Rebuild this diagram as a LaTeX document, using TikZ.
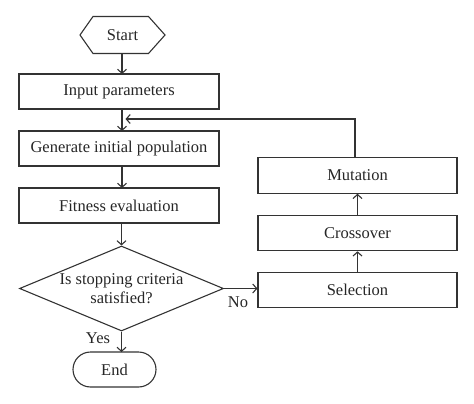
\documentclass[tikz,border=0pt]{standalone}
\usepackage{fontspec}
\setmainfont{Liberation Serif}
\usetikzlibrary{arrows.meta,shapes.geometric,shapes.misc,calc}
\begin{document}
\begin{tikzpicture}[x=1pt,y=-1pt,
  line width=1.1pt, draw=black!80,
  every node/.style={font=\fontsize{16.5}{19}\selectfont, text=black!85},
  box/.style={draw, rectangle, minimum width=200pt, minimum height=35pt, inner sep=0pt},
  rbox/.style={draw, rectangle, minimum width=199pt, minimum height=35.5pt, inner sep=0pt},
  arr/.style={-{Straight Barb[length=4pt,width=9pt]}}]
\useasboundingbox (0,0) rectangle (474,404);
% Start hexagon
\node (start) at (122.5,35) {Start};
\draw ($(start)+(-42.5,0)$) -- ($(start)+(-29.5,-18.5)$) -- ($(start)+(26,-18.5)$) -- ($(start)+(42.5,0)$) -- ($(start)+(26,18.5)$) -- ($(start)+(-29.5,18.5)$) -- cycle;
\coordinate (startb) at (122,53.5);
% Left column
\node[box] (input) at (119,91.5) {Input parameters};
\node[box] (gen) at (119,148.5) {Generate initial population};
\node[box] (fit) at (119,205.5) {Fitness evaluation};
\node[draw, diamond, minimum width=204pt, minimum height=85pt, inner sep=0pt, aspect=2.4, align=center] (dec) at (121.5,288.5) {Is stopping criteria\\satisfied?};
\node[draw, rounded rectangle, rounded rectangle arc length=180, minimum width=83pt, minimum height=35pt, inner sep=0pt] (end) at (114.5,369.5) {End};
% Right column
\node[rbox] (sel) at (357.5,290) {Selection};
\node[rbox] (cross) at (357.5,233) {Crossover};
\node[rbox] (mut) at (357.5,175.5) {Mutation};
% Connectors
\draw[arr] (startb) -- (122,74);
\draw[arr] (122,109) -- (122,131);
\draw[arr] (122,166) -- (122,188);
\draw[arr] (121.5,223) -- (dec.north);
\draw[arr] (dec.south) -- (121.5,352);
\draw[arr] (dec.east) -- (sel.west |- dec.east);
\draw[arr] (sel.north) -- (cross.south);
\draw[arr] (cross.north) -- (mut.south);
\coordinate (fbc) at (355,119);
\coordinate (fbend) at (125.5,119);
\draw[arr] (355,158) -- (fbc) -- (fbend);
% Labels
\node (yes) at (98,338) {Yes};
\node (no) at (238,302) {No};
\end{tikzpicture}
\end{document}
